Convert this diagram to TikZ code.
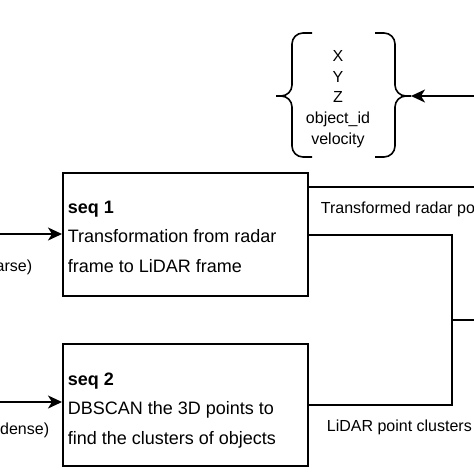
\documentclass[tikz,border=0pt]{standalone}
\usepackage{fontspec}
\setmainfont{Liberation Sans}
\usetikzlibrary{positioning,arrows.meta}

\begin{document}
\begin{tikzpicture}[x=1pt,y=-1pt,line width=1.8pt,
    stage/.style={draw, line width=2pt, minimum width=245pt, inner sep=0pt},
    stagetext/.style={anchor=north west, align=left, inner sep=0pt, font=\fontsize{18}{29.5}\selectfont},
    lbl/.style={inner sep=0pt, font=\fontsize{16}{19}\selectfont},
    arr/.style={-{Stealth[length=14pt,width=13pt,inset=4pt]}}]
    % Page
    \useasboundingbox (0,0) rectangle (474,474);
    \clip (0,0) rectangle (474,474);

    % Stages
    \node[stage, minimum height=123pt] (seq1) at (185.5,234.5) {};
    \node[stage, minimum height=122pt] (seq2) at (185.5,405) {};
    \node[stagetext] (seq1txt) at (67,200) {\textbf{seq 1}\\Transformation from radar\\frame to LiDAR frame};
    \node[stagetext] (seq2txt) at (67,372) {\textbf{seq 2}\\DBSCAN the 3D points to\\find the clusters of objects};

    % Attribute list in braces
    \node[align=center, inner sep=0pt, font=\fontsize{16}{20.8}\selectfont] (attrs) at (338,99) {X\\Y\\Z\\object\_id\\velocity};
    \draw[line width=1.6pt, rounded corners=11pt] (312,33) -- (292,33) -- (292,96) -- (276,96);
    \draw[line width=1.6pt, rounded corners=11pt] (276,96) -- (292,96) -- (292,157) -- (312,157);
    \draw[line width=1.6pt, rounded corners=11pt] (375,33) -- (395,33) -- (395,96) -- (411,96);
    \draw[line width=1.6pt, rounded corners=11pt] (411,96) -- (395,96) -- (395,157) -- (375,157);
    \coordinate (rtip) at (411,96);
    \coordinate (rin) at (474,96);
    \draw[arr] (rin) -- (rtip);

    % Inputs
    \coordinate (in1) at (0,234);
    \coordinate (in2) at (0,402);
    \draw[arr] (in1) -- (seq1.west |- in1);
    \draw[arr] (in2) -- (seq2.west |- in2);
    \node[lbl, anchor=east] (sparse) at (33,267) {arse)};
    \node[lbl, anchor=east] (dense) at (50,430) {dense)};

    % Outputs
    \coordinate (out1) at (474,187);
    \coordinate (join) at (452,320);
    \coordinate (out2) at (474,320);
    \draw (seq1.east |- out1) -- (out1);
    \draw (seq1.east |- 0,235) -| (join) |- (seq2.east |- 0,405);
    \draw (join) -- (out2);
    \node[lbl, anchor=west] (radarpts) at (320,209) {Transformed radar po};
    \node[lbl, anchor=west] (clusters) at (326,427) {LiDAR point clusters};
\end{tikzpicture}
\end{document}
